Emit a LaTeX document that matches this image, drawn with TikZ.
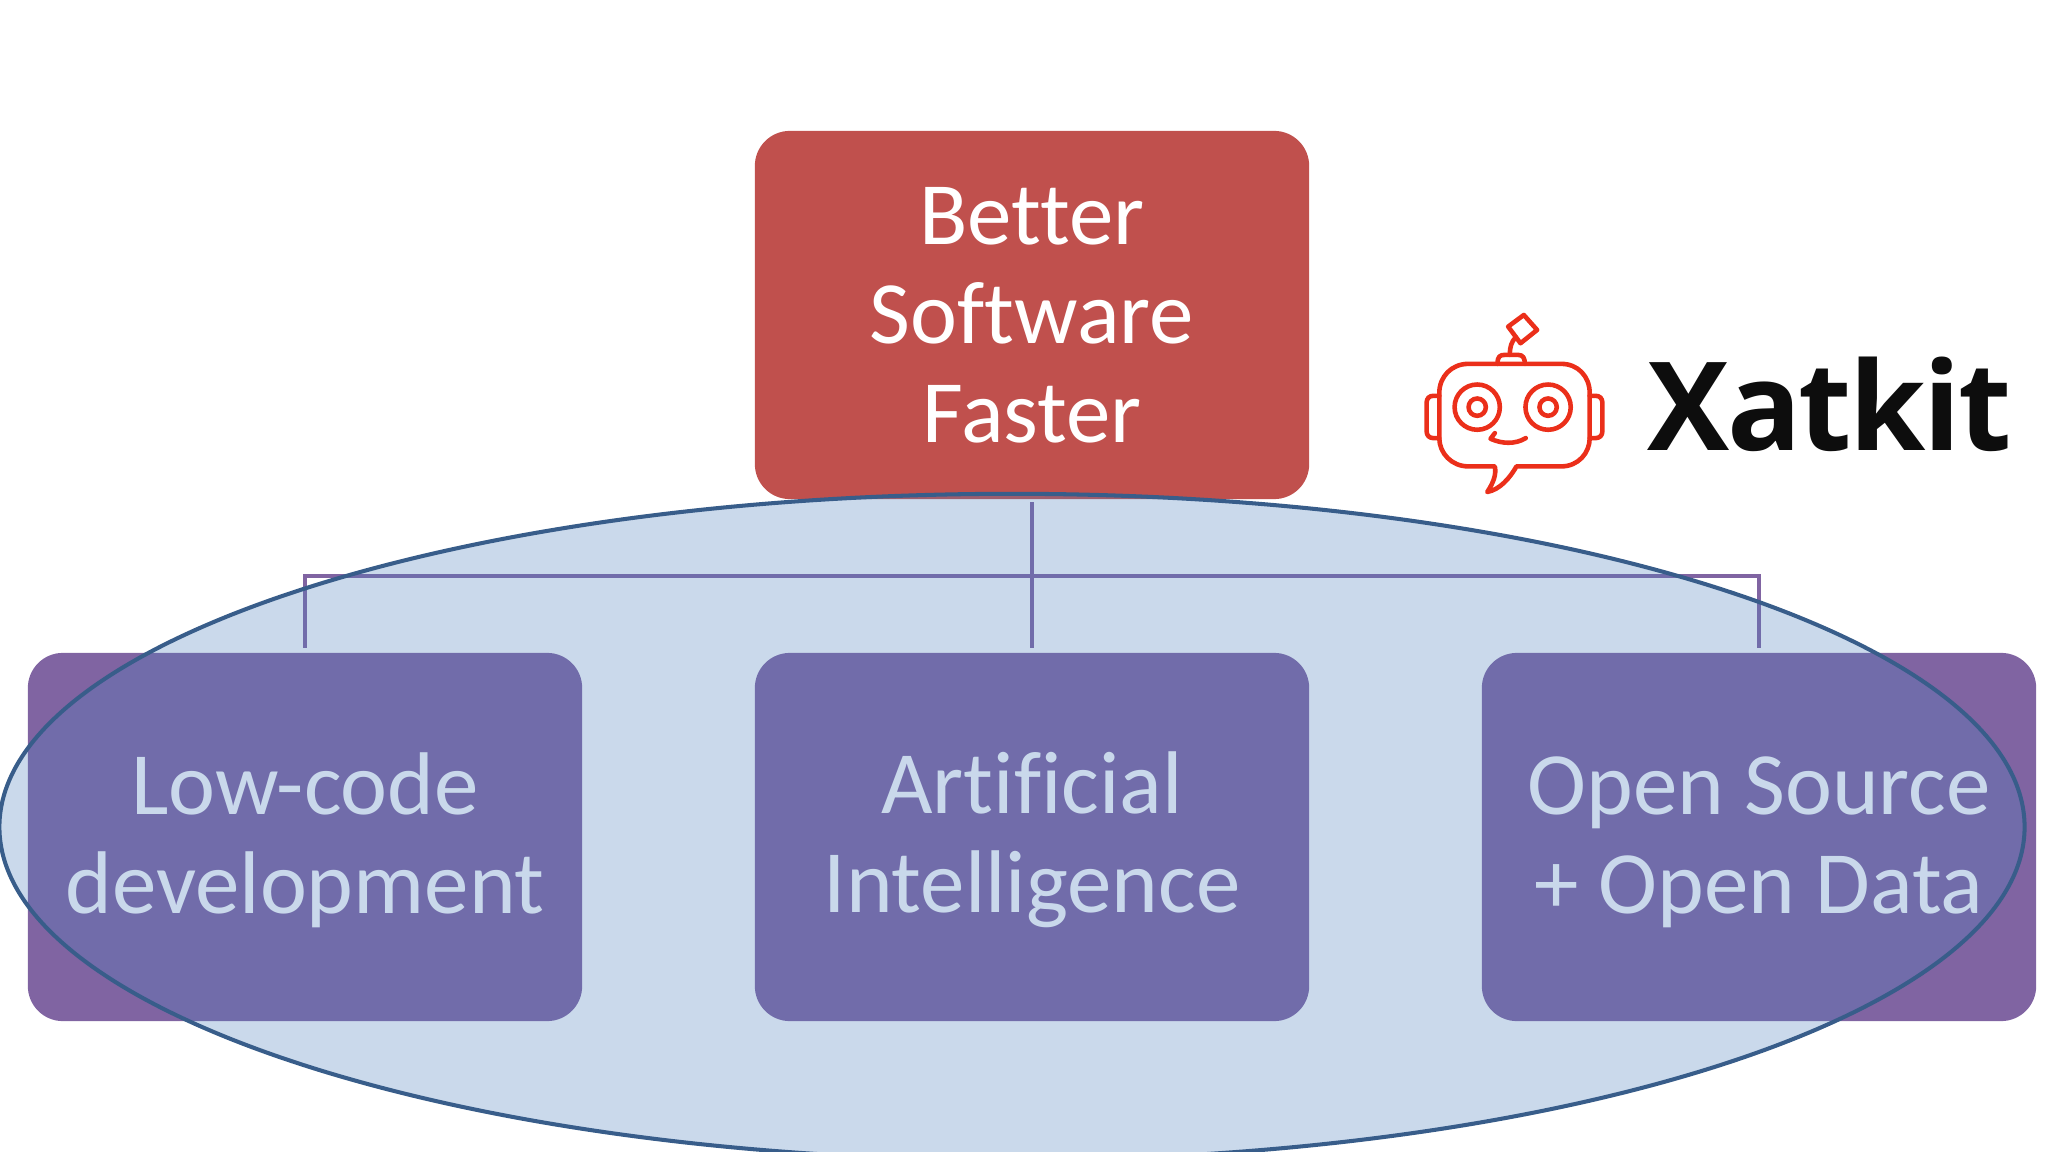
\documentclass[tikz,border=0pt]{standalone}
\usepackage{fontspec}
\setmainfont[Ligatures=NoCommon]{Carlito}
\newfontfamily\logofont[LetterSpace=-2.2]{Open Sans}
\usepackage{tikz}
\usetikzlibrary{shapes.geometric}
\definecolor{goalred}{HTML}{C0504D}
\definecolor{pillar}{HTML}{8064A2}
\definecolor{cloudfill}{HTML}{4F81BD}
\definecolor{cloudline}{HTML}{385D8A}
\definecolor{robotred}{HTML}{EB2F1A}
\newcommand{\lowerline}{\rule{0pt}{19.2pt}}

\begin{document}
\begin{tikzpicture}[x=0.01cm,y=-0.01cm,
                box/.style={rectangle,rounded corners=0.35cm,minimum width=5.54cm,minimum height=3.68cm,inner sep=0pt,text=white,align=center,font=\fontsize{25.3}{28.1}\selectfont},
                link/.style={draw=pillar,line width=1.15pt},
                robot/.style={draw=robotred,line width=1.3pt,line join=round,line cap=round}]
  \useasboundingbox (0,0) rectangle (2048,1152);
  \node[box,fill=goalred] (goal) at (1032,315) {Better\\Software\\Faster};
  \node[box,fill=pillar]  (low)  at (305,837)  {\lowerline Low-code\\development};
  \node[box,fill=pillar]  (ai)   at (1032,837) {\lowerline Artificial\\Intelligence};
  \node[box,fill=pillar]  (open) at (1759,837) {\lowerline Open Source\\+ Open Data};
  \coordinate (bus) at (1032,576);
  \draw[link,shorten <=0.7pt] (goal.south) -- (bus);
  \draw[link,shorten >=1.3pt] (bus) -- (ai.north);
  \draw[link,shorten >=1.3pt] (bus) -| (low.north);
  \draw[link,shorten >=1.3pt] (bus) -| (open.north);
  % cover over everything
  \node[ellipse,fill=cloudfill,fill opacity=0.3,draw=cloudline,draw opacity=1,line width=1.15pt,minimum width=20.24cm,minimum height=6.66cm,inner sep=0pt] (cloud) at (1012,827) {};
  % logo
  \node[font=\logofont\bfseries\fontsize{35}{35}\selectfont,text=black!95,anchor=base west,inner sep=0pt] (xatkit) at (1647,451) {Xatkit};
  \begin{scope}[shift={(1400,290)},x=0.003333cm,y=-0.003333cm]
    \draw[robot] (285,530) -- (205,530) .. controls (155,530) and (118,490) .. (118,445) -- (118,310)
      .. controls (118,260) and (155,222) .. (205,222) -- (485,222)
      .. controls (535,222) and (570,260) .. (570,310) -- (570,445)
      .. controls (570,490) and (535,530) .. (485,530) -- (350,530)
      .. controls (330,565) and (300,600) .. (262,607)
      .. controls (280,580) and (290,555) .. (285,530) -- cycle;
    \draw[robot] (118,318) -- (100,318) .. controls (88,318) and (80,326) .. (80,338) -- (80,425) .. controls (80,437) and (88,445) .. (100,445) -- (118,445);
    \draw[robot] (570,318) -- (588,318) .. controls (600,318) and (608,326) .. (608,338) -- (608,425) .. controls (608,437) and (600,445) .. (588,445) -- (570,445);
    \draw[robot] (232,352) circle[radius=68];
    \draw[robot] (232,352) circle[radius=26];
    \draw[robot] (445,352) circle[radius=68];
    \draw[robot] (445,352) circle[radius=26];
    \draw[robot] (285,430) -- (272,447) .. controls (305,462) and (345,465) .. (378,445);
    \draw[robot] (293,222) .. controls (293,200) and (300,195) .. (315,195) -- (355,195) .. controls (370,195) and (375,205) .. (375,222);
    \draw[robot] (330,195) .. controls (330,170) and (335,155) .. (348,142);
    \draw[robot] (372,75) -- (412,120) -- (362,160) -- (325,110) -- cycle;
  \end{scope}
\end{tikzpicture}
\end{document}
